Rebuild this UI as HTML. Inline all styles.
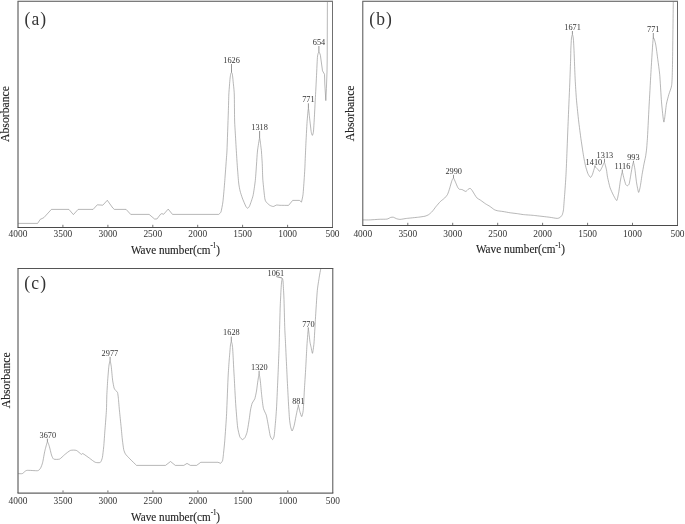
<!DOCTYPE html>
<html><head><meta charset="utf-8"><title>FTIR spectra</title>
<style>
html,body{margin:0;padding:0;background:#fff;}
svg{display:block;}
text{font-family:"Liberation Serif","DejaVu Serif",serif;fill:#333;}
.tk{font-size:9.4px;text-anchor:middle;}
.pk{font-size:8.3px;text-anchor:middle;}
.ax{font-size:11.2px;text-anchor:middle;fill:#262626;stroke:#262626;stroke-width:0.14px;}
.ay{font-size:11.7px;text-anchor:middle;fill:#262626;stroke:#262626;stroke-width:0.14px;}
.lb{font-size:18.5px;letter-spacing:1.2px;}
.fr{fill:none;stroke:#555;stroke-width:1;}
.cv{fill:none;stroke:#8a8a8a;stroke-width:0.62;stroke-linejoin:round;}
.mk{stroke:#666;stroke-width:0.7;fill:none;}
.ti{stroke:#777;stroke-width:1;}
</style></head><body>
<svg width="685" height="524" viewBox="0 0 685 524">
<rect width="685" height="524" fill="#fff"/>
<g>
<path class="cv" d="M18.2 223.4L37.6 223.4L40.3 219.3L42.2 218.5L43.9 217.6L51.4 209.4L68.9 209.4L73.4 214.6L78.1 209.4L93.1 209.4L97.3 204.8L102.8 205.2L107.3 200.3L112.8 208.0L114.4 209.4L126.1 209.4L130.7 214.4L149.1 214.4L154.6 219.0L156.9 219.0L160.7 214.1L161.9 213.6L163.6 214.3L168.2 209.1L172.5 214.4L218.7 214.4C218.9 214.2 220.6 213.1 221.0 211.8C221.4 210.5 222.5 205.0 222.9 201.9C223.3 198.8 224.5 184.7 224.8 180.5C225.1 176.3 226.1 163.1 226.3 160.0C226.5 156.9 226.8 154.7 227.0 150.0C227.2 145.3 228.1 118.5 228.3 113.0C228.5 107.5 228.7 97.8 228.8 95.0C228.9 92.2 229.4 86.7 229.5 85.0C229.6 83.3 230.0 79.1 230.1 78.0C230.2 76.9 230.6 74.6 230.7 74.0C230.8 73.4 231.3 72.4 231.5 72.4C231.7 72.4 232.2 73.4 232.3 74.0C232.4 74.6 232.7 76.9 232.8 78.0C232.9 79.1 233.3 83.3 233.5 85.0C233.7 86.7 234.2 91.5 234.3 95.0C234.4 98.5 234.5 115.5 234.6 120.0C234.7 124.5 235.5 136.0 235.7 140.0C235.9 144.0 236.7 157.0 236.9 160.0C237.1 163.0 237.4 167.7 237.6 170.0C237.8 172.3 238.4 180.9 238.7 183.0C238.9 185.1 239.7 189.5 240.1 191.0C240.5 192.5 241.7 196.4 242.3 198.0C242.9 199.6 245.4 205.5 245.9 206.5C246.4 207.5 246.8 207.7 247.0 207.9C247.2 208.1 247.5 208.2 247.6 208.2C247.7 208.2 248.1 208.1 248.3 207.8C248.5 207.6 249.2 206.9 249.7 205.7C250.2 204.5 252.4 198.3 253.0 195.8C253.6 193.3 254.9 184.1 255.3 180.5C255.7 176.9 256.6 163.1 256.8 160.0C257.0 156.9 257.3 152.2 257.6 150.0C257.9 147.8 259.3 138.4 259.6 138.0C259.9 137.6 260.6 144.6 260.8 146.0C261.0 147.4 261.4 150.1 261.5 152.0C261.6 153.9 262.2 162.2 262.3 165.0C262.4 167.8 262.6 177.1 262.9 180.5C263.2 183.9 264.5 196.7 264.9 198.9C265.3 201.1 266.3 202.1 266.8 202.7C267.3 203.3 269.2 204.9 269.8 205.3C270.4 205.7 272.5 206.5 273.2 206.5C273.9 206.5 276.0 205.1 276.7 205.0C277.4 204.9 278.8 205.3 280.0 205.3C281.2 205.3 287.6 205.4 288.5 205.4L292.7 200.4L299.4 200.4L301.5 202.1C301.6 201.4 302.7 197.2 303.0 194.7C303.3 192.2 304.1 180.4 304.3 177.4C304.5 174.4 304.9 168.2 305.0 165.0C305.1 161.8 305.6 150.1 305.8 145.8C306.0 141.5 306.8 125.4 307.1 121.7C307.4 118.0 308.1 108.7 308.4 108.4C308.7 108.1 309.4 116.6 309.7 119.0C310.0 121.4 311.0 130.8 311.3 132.4C311.6 134.0 312.2 135.5 312.4 135.4C312.6 135.3 313.3 133.3 313.5 131.1C313.7 128.9 314.4 117.1 314.6 113.0C314.8 108.9 315.6 93.3 315.8 90.0C316.0 86.7 316.1 83.2 316.3 80.0C316.5 76.8 317.2 60.2 317.4 57.6C317.6 55.0 318.0 54.1 318.1 53.5C318.2 52.9 318.8 52.0 318.9 51.8L319.7 53.2L320.4 55.3L322.5 70.8L324.5 74.3L324.8 84.0L325.8 100.6L326.4 88.7L327.0 72.0L327.2 60.0L327.4 1.5"/>
<line x1="17.5" y1="0.5" x2="333.0" y2="0.5" stroke="#d2d2d2" stroke-width="1"/>
<line x1="17.5" y1="1.5" x2="333.0" y2="1.5" stroke="#7c7c7c" stroke-width="1"/>
<line x1="332.5" y1="1.5" x2="332.5" y2="227.5" stroke="#707070" stroke-width="1"/>
<line x1="17.5" y1="227.5" x2="333.0" y2="227.5" stroke="#4a4a4a" stroke-width="1"/>
<line x1="18.0" y1="1.5" x2="18.0" y2="227.5" stroke="#444" stroke-width="1"/>
<text class="tk" transform="translate(18.0 237.1) scale(1 1.04)">4000</text>
<line class="ti" x1="62.9" y1="227.0" x2="62.9" y2="224.8"/>
<text class="tk" transform="translate(62.9 237.1) scale(1 1.04)">3500</text>
<line class="ti" x1="107.9" y1="227.0" x2="107.9" y2="224.8"/>
<text class="tk" transform="translate(107.9 237.1) scale(1 1.04)">3000</text>
<line class="ti" x1="152.8" y1="227.0" x2="152.8" y2="224.8"/>
<text class="tk" transform="translate(152.8 237.1) scale(1 1.04)">2500</text>
<line class="ti" x1="197.7" y1="227.0" x2="197.7" y2="224.8"/>
<text class="tk" transform="translate(197.7 237.1) scale(1 1.04)">2000</text>
<line class="ti" x1="242.6" y1="227.0" x2="242.6" y2="224.8"/>
<text class="tk" transform="translate(242.6 237.1) scale(1 1.04)">1500</text>
<line class="ti" x1="287.6" y1="227.0" x2="287.6" y2="224.8"/>
<text class="tk" transform="translate(287.6 237.1) scale(1 1.04)">1000</text>
<text class="tk" transform="translate(332.5 237.1) scale(1 1.04)">500</text>
<text class="ax" transform="translate(175.4 253.8) scale(1 1.09)">Wave number(cm<tspan font-size="6.8px" dy="-5">-1</tspan><tspan dy="5">)</tspan></text>
<text class="ay" transform="translate(9.4 114.0) rotate(-90) scale(1 1.06)">Absorbance</text>
<text class="lb" transform="translate(24.4 25.4) scale(0.95 1)">(a)</text>
<text class="pk" transform="translate(231.6 62.8) scale(1 1.06)">1626</text>
<path class="mk" d="M231.5 64V72.4"/>
<text class="pk" transform="translate(259.6 129.8) scale(1 1.06)">1318</text>
<path class="mk" d="M259.6 131V138"/>
<text class="pk" transform="translate(308.4 102.0) scale(1 1.06)">771</text>
<path class="mk" d="M308.4 103.3V108.4"/>
<text class="pk" transform="translate(319.0 44.9) scale(1 1.06)">654</text>
<path class="mk" d="M318.9 46V51.8"/>
</g>
<g>
<path class="cv" d="M362.9 219.9C363.6 219.9 368.6 220.0 370.2 219.9C371.8 219.8 377.3 219.4 379.0 219.3C380.7 219.2 385.8 219.3 387.0 219.1C388.2 218.9 390.1 217.6 390.7 217.4C391.3 217.2 392.7 217.1 393.3 217.2C393.9 217.3 395.8 218.5 396.5 218.7C397.2 218.9 399.1 219.4 400.1 219.4C401.1 219.4 404.9 218.6 406.7 218.4C408.5 218.2 416.6 217.4 418.4 217.2C420.2 217.0 424.0 216.4 425.0 216.2C426.0 215.9 427.9 215.2 428.6 214.7C429.3 214.2 431.6 212.2 432.3 211.4C433.0 210.6 435.1 207.7 435.9 206.7C436.7 205.7 439.4 202.5 440.3 201.6C441.2 200.7 444.0 198.7 444.7 198.0C445.4 197.3 447.1 195.3 447.6 194.3C448.1 193.3 449.4 189.3 449.8 187.9C450.2 186.5 451.6 181.4 452.0 180.4C452.4 179.4 453.1 177.9 453.5 178.1C453.9 178.3 455.1 181.3 455.5 182.2C455.9 183.1 457.3 186.6 457.7 187.3C458.1 188.0 458.8 189.0 459.2 189.2C459.6 189.4 461.4 189.4 462.1 189.6C462.8 189.8 465.1 191.5 465.8 191.4C466.5 191.3 468.2 189.2 468.7 188.9C469.2 188.6 470.0 188.3 470.4 188.5C470.8 188.7 471.7 189.8 472.3 190.7C472.9 191.6 475.9 196.8 476.7 197.7C477.5 198.6 479.5 199.5 480.4 200.1C481.3 200.7 484.6 203.2 485.5 203.8C486.4 204.4 489.0 205.8 489.9 206.4C490.8 207.0 493.5 209.2 494.2 209.6C494.9 210.0 496.3 210.5 497.2 210.7C498.1 210.9 501.7 211.3 503.0 211.5C504.3 211.7 508.8 212.6 510.3 212.8C511.8 213.0 516.3 213.5 517.6 213.7C518.9 213.9 521.7 214.4 523.4 214.6C525.1 214.8 532.0 215.2 534.6 215.5C537.2 215.8 546.9 216.9 549.2 217.2C551.5 217.5 556.1 218.4 557.2 218.4C558.3 218.4 559.6 217.8 560.1 217.4C560.6 217.0 562.0 215.5 562.3 214.7C562.6 213.9 563.3 211.4 563.5 209.6C563.7 207.8 564.2 200.0 564.5 196.5C564.8 193.0 565.8 178.6 566.0 174.6C566.2 170.6 566.6 162.0 566.8 156.3C567.0 150.7 568.0 125.7 568.3 118.1C568.6 110.5 569.7 85.8 569.9 80.0C570.1 74.2 570.5 63.2 570.6 60.0C570.7 56.8 570.8 50.1 570.9 48.0C571.0 45.9 571.3 40.2 571.4 39.0C571.5 37.8 571.8 36.2 571.9 35.8C572.0 35.4 572.3 34.7 572.4 34.7C572.5 34.7 572.8 35.4 572.9 35.8C573.0 36.2 573.3 37.8 573.4 39.0C573.5 40.2 573.8 45.9 573.9 48.0C574.0 50.1 574.3 56.8 574.4 60.0C574.5 63.2 575.0 76.1 575.2 80.0C575.4 83.9 576.1 95.2 576.4 99.0C576.7 102.8 577.9 114.2 578.3 118.0C578.7 121.8 580.2 133.2 580.7 137.0C581.2 140.8 583.1 153.4 583.6 156.3C584.1 159.2 585.1 164.1 585.5 165.8C585.9 167.5 587.3 172.2 587.8 173.4C588.3 174.6 590.0 177.3 590.5 177.4C591.0 177.5 592.1 175.3 592.5 174.3C592.9 173.3 594.4 167.6 594.9 167.0C595.4 166.4 596.8 168.4 597.3 168.8C597.8 169.2 599.2 171.5 599.7 171.3C600.2 171.1 601.6 168.1 602.1 167.2C602.6 166.3 604.0 162.1 604.4 162.4C604.8 162.7 606.2 168.5 606.5 170.0C606.8 171.5 607.2 175.8 607.6 177.5C608.0 179.2 609.4 185.7 610.0 187.5C610.6 189.3 612.8 194.1 613.5 195.4C614.2 196.7 616.3 200.8 616.8 200.5C617.3 200.2 618.3 194.6 618.7 192.5C619.1 190.4 620.1 182.0 620.5 180.0C620.9 178.0 621.9 172.2 622.3 172.1C622.6 172.0 623.6 177.3 624.0 178.6C624.4 179.8 625.4 183.9 625.8 184.6C626.1 185.3 627.2 185.8 627.5 185.7C627.8 185.6 628.9 184.9 629.2 183.8C629.5 182.7 630.6 176.2 630.9 174.3C631.2 172.4 632.3 166.1 632.6 164.9C632.9 163.7 633.3 161.9 633.5 162.3C633.7 162.7 634.6 167.1 634.9 169.2C635.2 171.3 636.2 180.6 636.6 182.9C637.0 185.2 638.2 192.1 638.6 192.4C639.0 192.8 639.9 188.2 640.3 186.4C640.6 184.6 641.8 176.5 642.1 174.3C642.5 172.2 643.5 166.6 643.8 164.9C644.1 163.2 645.2 158.6 645.5 157.0C645.8 155.4 646.4 151.0 646.6 149.0C646.8 147.0 647.2 141.7 647.5 137.0C647.8 132.3 648.9 108.5 649.3 101.8C649.7 95.1 650.7 75.9 651.1 69.6C651.5 63.3 652.8 41.1 653.2 38.5C653.7 35.9 655.1 41.9 655.6 44.0C656.1 46.1 657.4 56.6 657.8 59.6C658.2 62.6 659.3 70.3 659.7 74.5C660.1 78.7 661.1 97.0 661.5 101.8C661.9 106.6 663.4 121.9 663.9 122.1C664.4 122.3 665.9 107.0 666.4 104.2C666.9 101.4 668.4 96.1 668.9 94.3C669.4 92.5 671.2 88.2 671.6 85.7C672.0 83.2 672.2 78.0 672.4 69.6C672.6 61.2 673.2 8.3 673.3 1.5"/>
<line x1="362.3" y1="0.5" x2="678.0" y2="0.5" stroke="#d2d2d2" stroke-width="1"/>
<line x1="362.3" y1="1.5" x2="678.0" y2="1.5" stroke="#7c7c7c" stroke-width="1"/>
<line x1="677.5" y1="1.5" x2="677.5" y2="225.5" stroke="#666" stroke-width="1"/>
<line x1="362.3" y1="225.5" x2="678.0" y2="225.5" stroke="#4a4a4a" stroke-width="1"/>
<line x1="362.8" y1="1.5" x2="362.8" y2="225.5" stroke="#505050" stroke-width="1"/>
<text class="tk" transform="translate(362.8 236.7) scale(1 1.04)">4000</text>
<line class="ti" x1="407.8" y1="225.0" x2="407.8" y2="222.8"/>
<text class="tk" transform="translate(407.8 236.7) scale(1 1.04)">3500</text>
<line class="ti" x1="452.7" y1="225.0" x2="452.7" y2="222.8"/>
<text class="tk" transform="translate(452.7 236.7) scale(1 1.04)">3000</text>
<line class="ti" x1="497.7" y1="225.0" x2="497.7" y2="222.8"/>
<text class="tk" transform="translate(497.7 236.7) scale(1 1.04)">2500</text>
<line class="ti" x1="542.6" y1="225.0" x2="542.6" y2="222.8"/>
<text class="tk" transform="translate(542.6 236.7) scale(1 1.04)">2000</text>
<line class="ti" x1="587.6" y1="225.0" x2="587.6" y2="222.8"/>
<text class="tk" transform="translate(587.6 236.7) scale(1 1.04)">1500</text>
<line class="ti" x1="632.5" y1="225.0" x2="632.5" y2="222.8"/>
<text class="tk" transform="translate(632.5 236.7) scale(1 1.04)">1000</text>
<text class="tk" transform="translate(677.5 236.7) scale(1 1.04)">500</text>
<text class="ax" transform="translate(520.4 253.4) scale(1 1.09)">Wave number(cm<tspan font-size="6.8px" dy="-5">-1</tspan><tspan dy="5">)</tspan></text>
<text class="ay" transform="translate(354.0 113.4) rotate(-90) scale(1 1.06)">Absorbance</text>
<text class="lb" transform="translate(369.2 25.2) scale(0.95 1)">(b)</text>
<text class="pk" transform="translate(453.7 174.2) scale(1 1.06)">2990</text>
<path class="mk" d="M453.5 174.8V178.1"/>
<text class="pk" transform="translate(572.6 29.9) scale(1 1.06)">1671</text>
<path class="mk" d="M572.4 31V34.6"/>
<text class="pk" transform="translate(593.9 164.7) scale(1 1.06)">1410</text>
<path class="mk" d="M594.9 165.5V167"/>
<text class="pk" transform="translate(604.9 157.9) scale(1 1.06)">1313</text>
<path class="mk" d="M604.5 158.8V162.4"/>
<text class="pk" transform="translate(622.4 169.1) scale(1 1.06)">1116</text>
<path class="mk" d="M622.3 169.6V172.1"/>
<text class="pk" transform="translate(633.4 160.3) scale(1 1.06)">993</text>
<path class="mk" d="M633.5 160.8V162.3"/>
<text class="pk" transform="translate(653.2 31.7) scale(1 1.06)">771</text>
<path class="mk" d="M653.3 33V38.5"/>
</g>
<g>
<path class="cv" d="M18.2 473.6C18.6 473.6 21.4 473.9 22.3 473.6C23.2 473.3 25.2 470.7 26.7 470.4C28.2 470.1 36.2 470.9 37.6 470.7C39.0 470.5 40.0 469.0 40.5 468.2C41.0 467.4 42.3 464.1 42.7 462.3C43.1 460.6 44.4 452.7 44.9 450.7C45.4 448.7 47.0 442.3 47.4 441.9C47.8 441.5 48.9 445.0 49.3 446.3C49.7 447.6 51.1 453.7 51.5 455.0C51.9 456.3 52.9 458.7 53.7 459.1C54.5 459.5 58.4 459.5 59.5 459.1C60.6 458.7 63.5 455.6 64.6 454.7C65.7 453.8 69.3 450.8 70.5 450.4C71.7 450.0 75.2 450.0 76.3 450.4C77.4 450.8 80.7 454.0 81.4 454.3C82.1 454.6 82.1 453.2 82.9 453.6C83.7 454.0 88.3 457.3 89.5 458.2C90.7 459.1 94.2 461.9 95.3 462.3C96.4 462.7 99.6 462.9 100.3 462.4C101.0 461.9 102.1 459.1 102.4 457.5C102.7 455.9 103.4 449.6 103.7 446.8C104.0 444.0 104.7 433.0 105.0 429.4C105.3 425.8 106.2 414.0 106.4 410.7C106.6 407.4 106.7 399.2 106.8 396.1C106.9 393.0 107.5 383.0 107.7 380.1C107.9 377.2 108.6 368.6 108.8 366.7C109.0 364.8 109.8 360.7 110.1 360.7C110.3 360.7 111.0 364.8 111.3 366.7C111.5 368.6 112.3 378.0 112.6 380.1C112.9 382.2 113.8 387.1 114.1 388.1C114.4 389.1 115.4 390.1 115.7 390.5C116.0 390.9 117.2 391.6 117.5 392.4C117.8 393.2 118.2 396.6 118.4 398.5C118.6 400.4 119.2 408.2 119.5 411.0C119.8 413.8 120.8 423.8 121.1 426.7C121.4 429.6 122.1 437.8 122.4 440.1C122.7 442.4 123.4 448.1 123.7 449.5C124.0 450.9 124.9 453.2 125.5 454.1C126.1 455.0 128.7 457.7 129.8 458.8C130.9 459.9 135.8 464.7 136.5 465.4L165.5 465.4L170.5 461.5L175.3 465.4L183.8 465.4L187.0 463.4L190.4 465.4L196.6 465.4L200.8 462.3L217.9 462.3L220.7 463.3C220.9 463.1 222.2 461.7 222.5 460.8C222.8 459.9 223.2 456.7 223.4 454.6C223.6 452.5 224.5 444.3 224.8 440.2C225.1 436.1 226.3 420.0 226.6 413.5C226.9 407.0 227.9 380.4 228.2 375.0C228.5 369.6 229.0 362.6 229.2 360.0C229.4 357.4 230.0 350.6 230.1 349.0C230.2 347.4 230.5 344.7 230.6 344.0C230.7 343.3 231.2 341.6 231.3 341.6C231.5 341.6 232.0 343.3 232.1 344.0C232.2 344.7 232.6 347.2 232.7 349.0C232.8 350.8 233.3 359.4 233.4 362.0C233.5 364.6 233.9 372.0 234.1 375.0C234.3 378.0 234.8 388.8 235.0 392.0C235.2 395.2 235.6 403.5 235.9 407.0C236.2 410.5 237.2 424.0 237.6 427.0C238.0 430.0 239.3 435.4 239.8 436.7C240.3 438.0 242.0 439.5 242.5 439.6C243.0 439.7 244.6 438.2 245.0 437.5C245.4 436.8 246.6 433.9 247.0 432.4C247.4 430.8 248.5 424.2 248.8 422.0C249.2 419.8 250.2 411.9 250.5 410.0C250.8 408.1 251.8 404.2 252.2 403.1C252.6 402.0 254.4 400.0 254.8 398.8C255.2 397.6 256.2 392.9 256.5 391.1C256.8 389.3 257.6 382.5 257.9 380.8C258.2 379.1 258.9 373.9 259.1 373.9C259.3 373.9 260.1 378.7 260.3 380.8C260.6 382.9 261.3 391.8 261.6 394.5C261.9 397.2 262.9 406.2 263.4 408.3C263.9 410.4 265.8 413.6 266.3 415.2C266.8 416.8 267.6 421.7 268.0 423.8C268.4 425.9 269.8 434.2 270.2 435.8C270.6 437.4 272.1 439.6 272.5 439.6C272.9 439.6 273.9 437.6 274.2 435.8C274.5 434.0 275.2 425.1 275.5 422.0C275.8 418.9 276.5 409.2 276.7 405.0C276.9 400.8 277.6 384.5 277.8 380.0C278.0 375.5 278.5 364.0 278.6 360.0C278.8 356.0 279.2 345.0 279.3 340.0C279.4 335.0 280.0 314.6 280.1 310.0C280.2 305.4 280.7 296.8 280.8 294.0C280.9 291.2 281.4 283.6 281.6 282.0C281.8 280.4 282.2 278.3 282.4 278.3C282.5 278.3 283.0 280.1 283.1 282.0C283.2 283.9 283.7 292.3 283.9 297.0C284.1 301.7 284.6 324.0 284.8 328.8C285.0 333.6 285.5 341.9 285.6 345.0C285.8 348.1 286.1 356.6 286.3 360.0C286.5 363.4 287.0 375.0 287.2 379.0C287.4 383.0 288.1 396.1 288.3 400.0C288.5 403.9 289.2 415.3 289.4 418.0C289.6 420.7 290.3 425.4 290.6 426.7C290.9 428.0 291.8 431.1 292.1 431.0C292.5 430.9 293.7 427.3 294.1 425.8C294.5 424.3 295.6 418.2 296.0 416.2C296.4 414.2 297.9 406.7 298.3 406.2C298.7 405.7 299.5 410.5 299.8 411.5C300.1 412.5 301.4 416.7 301.7 416.6C302.0 416.5 302.9 413.4 303.2 410.5C303.5 407.6 304.2 392.3 304.5 387.7C304.8 383.1 305.7 368.8 305.9 364.8C306.1 360.8 306.6 351.4 306.8 347.9C307.0 344.3 308.0 329.9 308.3 329.3C308.6 328.7 309.7 340.4 310.0 342.2C310.3 344.0 310.9 346.5 311.2 347.6C311.4 348.7 312.2 353.8 312.5 353.3C312.8 352.8 313.7 346.4 314.0 343.0C314.3 339.6 315.1 324.5 315.4 319.3C315.7 314.1 316.9 294.8 317.3 290.6C317.7 286.4 318.9 279.5 319.2 277.3C319.5 275.1 320.6 269.8 320.7 269.0"/>
<line x1="17.5" y1="268.5" x2="333.3" y2="268.5" stroke="#555" stroke-width="1"/>
<line x1="332.8" y1="268.5" x2="332.8" y2="493.1" stroke="#505050" stroke-width="1"/>
<line x1="17.5" y1="493.1" x2="333.3" y2="493.1" stroke="#3c3c3c" stroke-width="1"/>
<line x1="18.0" y1="268.5" x2="18.0" y2="493.1" stroke="#444" stroke-width="1"/>
<text class="tk" transform="translate(18.0 504.2) scale(1 1.04)">4000</text>
<line class="ti" x1="63.0" y1="492.6" x2="63.0" y2="490.4"/>
<text class="tk" transform="translate(63.0 504.2) scale(1 1.04)">3500</text>
<line class="ti" x1="107.9" y1="492.6" x2="107.9" y2="490.4"/>
<text class="tk" transform="translate(107.9 504.2) scale(1 1.04)">3000</text>
<line class="ti" x1="152.9" y1="492.6" x2="152.9" y2="490.4"/>
<text class="tk" transform="translate(152.9 504.2) scale(1 1.04)">2500</text>
<line class="ti" x1="197.9" y1="492.6" x2="197.9" y2="490.4"/>
<text class="tk" transform="translate(197.9 504.2) scale(1 1.04)">2000</text>
<line class="ti" x1="242.9" y1="492.6" x2="242.9" y2="490.4"/>
<text class="tk" transform="translate(242.9 504.2) scale(1 1.04)">1500</text>
<line class="ti" x1="287.8" y1="492.6" x2="287.8" y2="490.4"/>
<text class="tk" transform="translate(287.8 504.2) scale(1 1.04)">1000</text>
<text class="tk" transform="translate(332.8 504.2) scale(1 1.04)">500</text>
<text class="ax" transform="translate(175.6 520.9) scale(1 1.09)">Wave number(cm<tspan font-size="6.8px" dy="-5">-1</tspan><tspan dy="5">)</tspan></text>
<text class="ay" transform="translate(9.5 380.3) rotate(-90) scale(1 1.06)">Absorbance</text>
<text class="lb" transform="translate(24.3 288.8) scale(0.95 1)">(c)</text>
<text class="pk" transform="translate(47.8 437.7) scale(1 1.06)">3670</text>
<path class="mk" d="M47.4 438.7V441.9"/>
<text class="pk" transform="translate(109.9 355.8) scale(1 1.06)">2977</text>
<path class="mk" d="M110.1 356.8V360.7"/>
<text class="pk" transform="translate(231.4 335.1) scale(1 1.06)">1628</text>
<path class="mk" d="M231.3 336.6V341.6"/>
<text class="pk" transform="translate(259.3 369.7) scale(1 1.06)">1320</text>
<path class="mk" d="M259.1 370.8V373.9"/>
<text class="pk" transform="translate(275.8 276.0) scale(1 1.06)">1061</text>
<path class="mk" d="M276.3 276.6L282 278"/>
<text class="pk" transform="translate(298.4 403.6) scale(1 1.06)">881</text>
<path class="mk" d="M298.3 404.6V406.2"/>
<text class="pk" transform="translate(308.4 326.8) scale(1 1.06)">770</text>
<path class="mk" d="M308.3 327.4V329.3"/>
</g>
</svg>
</body></html>
